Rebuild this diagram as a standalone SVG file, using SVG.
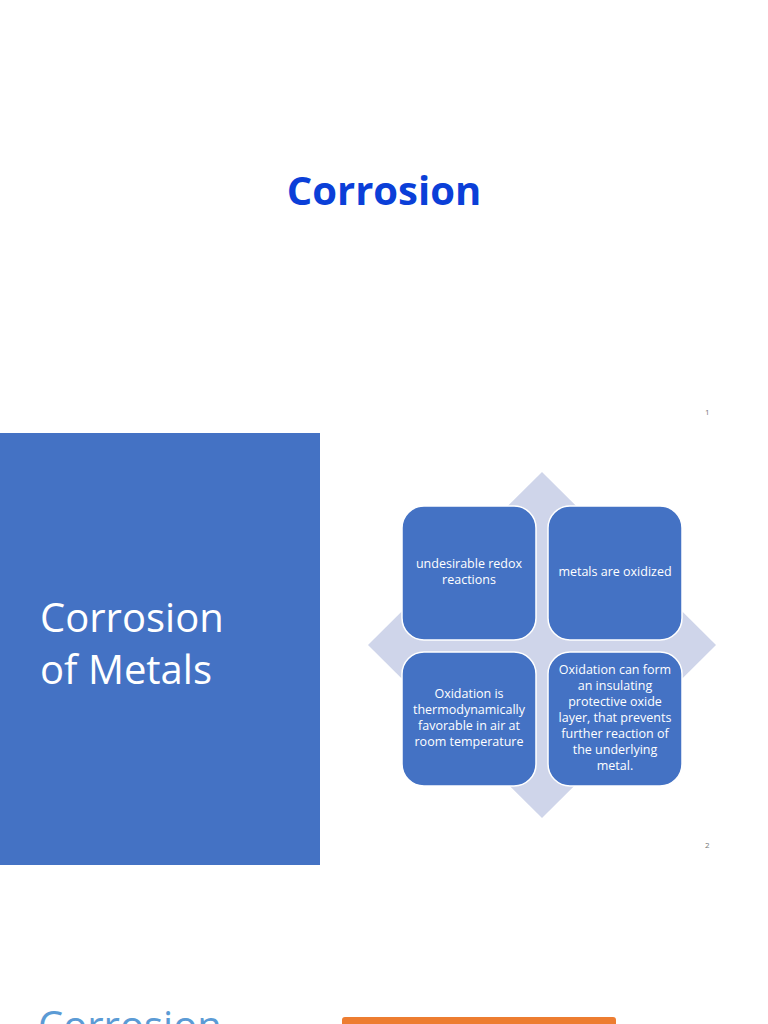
<svg xmlns="http://www.w3.org/2000/svg" width="768" height="1024" viewBox="0 0 768 1024">
<style>
.f{font-family:"Open Sans","Noto Sans","Liberation Sans",sans-serif}
.box{fill:#4472c4;stroke:#fff;stroke-width:1.5}
.bt{fill:#fff;font-size:12.5px;text-anchor:middle}
.pn{fill:#777;font-size:8px}
</style>
<rect width="768" height="1024" fill="#fff"/>
<text class="f" x="384" y="205" text-anchor="middle" font-size="40" font-weight="bold" fill="#0b3fd8">Corrosion</text>
<text class="f pn" x="705" y="415">1</text>
<rect x="0" y="433" width="320" height="432" fill="#4472c4"/>
<text class="f" x="40" y="632" font-size="40" fill="#fff">Corrosion</text>
<text class="f" x="40" y="684" font-size="40" fill="#fff">of Metals</text>
<polygon points="542,472 716,645 542,818 368,645" fill="#cfd5ea"/>
<g id="n1"><rect class="box" x="402" y="506" width="134" height="134" rx="22"/>
<text class="f bt" x="469" y="568">undesirable redox</text><text class="f bt" x="469" y="584">reactions</text></g>
<g id="n2"><rect class="box" x="548" y="506" width="134" height="134" rx="22"/>
<text class="f bt" x="615" y="576">metals are oxidized</text></g>
<g id="n3"><rect class="box" x="402" y="652" width="134" height="134" rx="22"/>
<text class="f bt" x="469" y="698">Oxidation is</text><text class="f bt" x="469" y="714">thermodynamically</text><text class="f bt" x="469" y="730">favorable in air at</text><text class="f bt" x="469" y="746">room temperature</text></g>
<g id="n4"><rect class="box" x="548" y="652" width="134" height="134" rx="22"/>
<text class="f bt" x="615" y="674">Oxidation can form</text><text class="f bt" x="615" y="690">an insulating</text><text class="f bt" x="615" y="706">protective oxide</text><text class="f bt" x="615" y="722">layer, that prevents</text><text class="f bt" x="615" y="738">further reaction of</text><text class="f bt" x="615" y="754">the underlying</text><text class="f bt" x="615" y="770">metal.</text></g>
<g id="connectors"/>
<text class="f pn" x="705" y="848">2</text>
<text class="f" x="38" y="1040" font-size="40" fill="#5b9bd5">Corrosion</text>
<rect x="342" y="1017" width="274" height="20" rx="3" fill="#ed7d31"/>
</svg>
